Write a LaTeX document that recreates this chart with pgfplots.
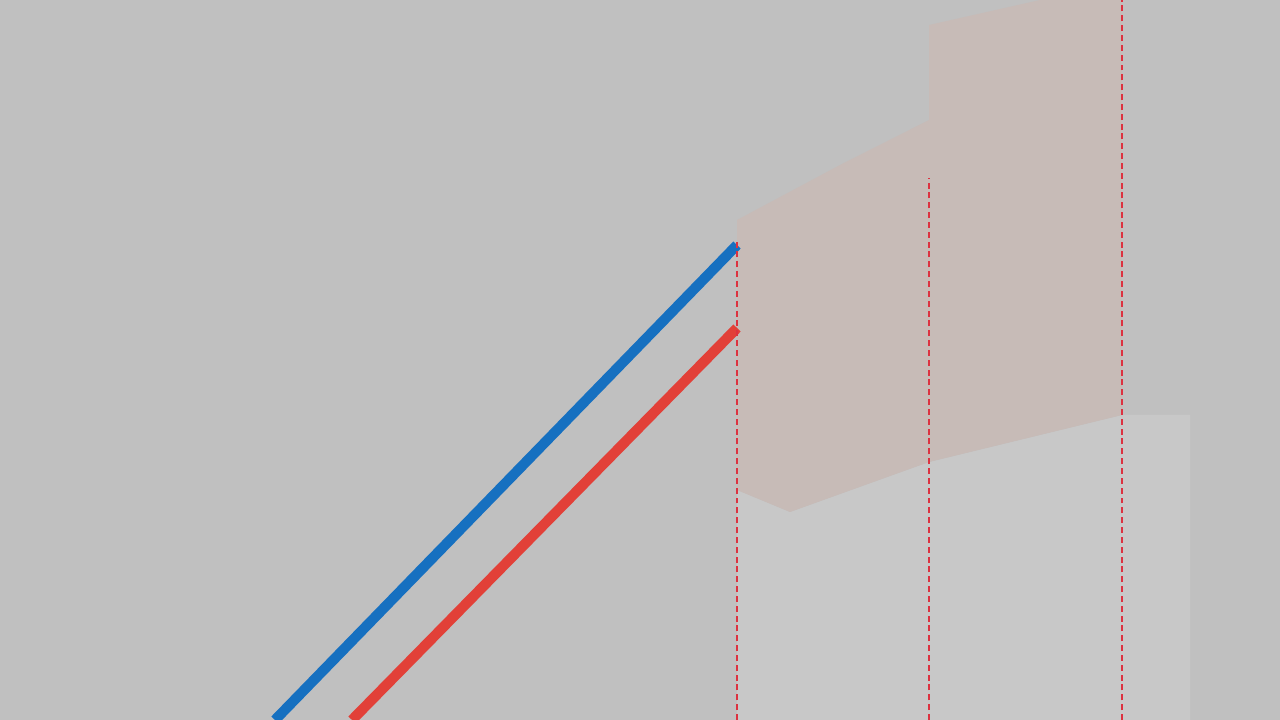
\documentclass[border=0pt]{standalone}
\usepackage{pgfplots}
\pgfplotsset{compat=1.18}
\definecolor{bg}{RGB}{192,192,192}
\definecolor{lightbg}{RGB}{200,200,200}
\definecolor{pinkfill}{RGB}{199,187,183}
\definecolor{blueline}{RGB}{22,112,192}
\definecolor{redline}{RGB}{226,64,56}
\definecolor{dashred}{RGB}{220,50,64}
\begin{document}
\begin{tikzpicture}
\begin{axis}[
  width=12.8cm, height=7.2cm, scale only axis,
  xmin=0, xmax=1280, ymin=0, ymax=720,
  hide axis, clip=true,
]
% background
\addplot[fill=bg, draw=none] coordinates {(0,0) (1280,0) (1280,720) (0,720)} -- cycle;
% lighter region below the band
\addplot[fill=lightbg, draw=none] coordinates {(737,0) (1190,0) (1190,305) (1122,305) (929,258) (790,208) (737,230)} -- cycle;
% pink band, left part
\addplot[fill=pinkfill, draw=none] coordinates {(737,230) (790,208) (929,258) (929,600) (840,555) (737,500)} -- cycle;
% pink band, right part
\addplot[fill=pinkfill, draw=none] coordinates {(929,258) (1122,305) (1122,720) (1040,720) (929,695)} -- cycle;
% diagonal lines
\addplot[blueline, line width=2.9pt] coordinates {(275,0) (737,475)};
\addplot[redline, line width=2.9pt] coordinates {(352,0) (737,392)};
% dashed verticals
\addplot[dashred, line width=0.6pt, dash pattern=on 1.7pt off 1.1pt] coordinates {(737,0) (737,480)};
\addplot[dashred, line width=0.6pt, dash pattern=on 1.7pt off 1.1pt] coordinates {(929,0) (929,542)};
\addplot[dashred, line width=0.6pt, dash pattern=on 1.7pt off 1.1pt] coordinates {(1122,0) (1122,720)};
\end{axis}
\end{tikzpicture}
\end{document}
